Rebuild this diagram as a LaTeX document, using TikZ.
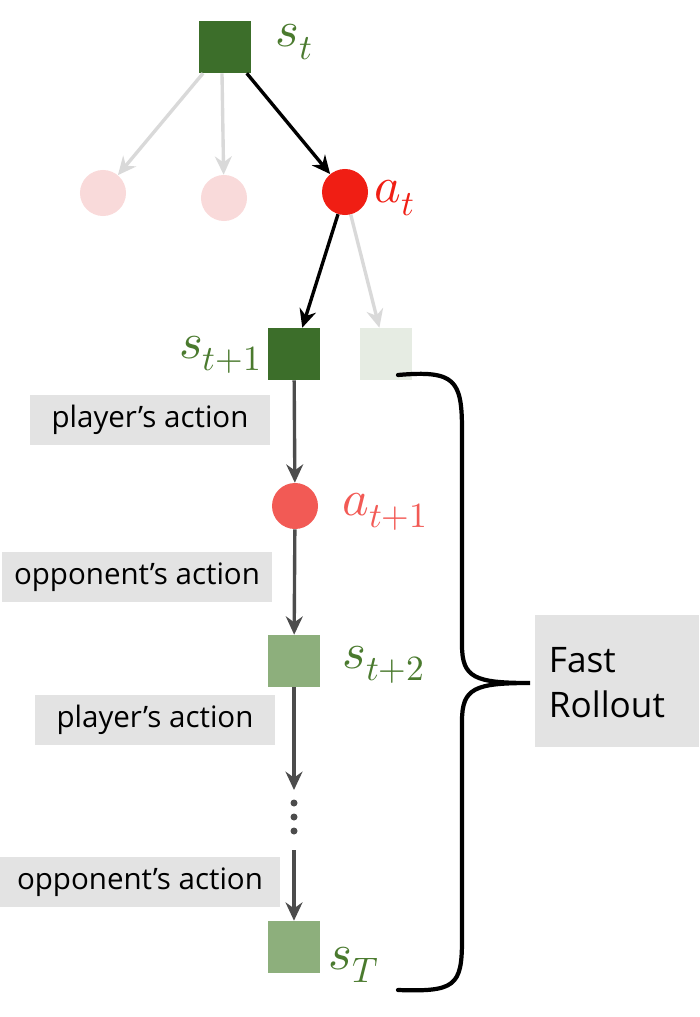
\documentclass[tikz,border=0pt]{standalone}
\usepackage{fontspec}
\usepackage{unicode-math}
\setmainfont{Open Sans}
\setmathfont{Latin Modern Math}
\usetikzlibrary{arrows.meta}
\definecolor{dkgreen}{HTML}{3C6E2A}
\definecolor{ltgreen}{HTML}{8DAF7C}
\definecolor{fdgreen}{HTML}{E6ECE3}
\definecolor{lblgreen}{HTML}{4A7A2E}
\definecolor{redc}{HTML}{F01E14}
\definecolor{lredc}{HTML}{F25A55}
\definecolor{fdred}{HTML}{F9DADA}
\definecolor{boxgray}{HTML}{E3E3E3}
\tikzset{
  state/.style = {draw=none, minimum size=1.3cm, inner sep=0pt},
  act/.style = {circle, draw=none, minimum size=1.15cm, inner sep=0pt},
  lbl/.style = {font=\fontsize{36}{36}\selectfont, inner sep=0pt},
  tag/.style = {fill=boxgray, font=\fontsize{21}{21}\selectfont, inner sep=0pt, minimum height=1.25cm},
  arr/.style = {line width=2.4pt, -{Stealth[length=13pt,width=12pt]}},
}
\begin{document}
\begin{tikzpicture}[x=0.025cm, y=-0.025cm]
\useasboundingbox (0,0) rectangle (699,1017);
% tree top
\node[state, fill=dkgreen] (st) at (225,47) {};
\node[lbl, text=lblgreen, anchor=west] (lst) at (275,42) {$s_t$};
\node[act, fill=fdred] (f1) at (103,193) {};
\node[act, fill=fdred] (f2) at (224,198) {};
\node[act, fill=redc] (at) at (345,192) {};
\node[lbl, text=redc, anchor=west] (lat) at (374,198) {$a_t$};
\draw[arr, draw=black!15] (st) -- (f1);
\draw[arr, draw=black!15] (st.south) ++(-3,0) coordinate (sb) (sb) -- (f2);
\draw[arr, black] (st) -- (at);
% rollout chain
\node[state, fill=dkgreen] (s1) at (294,354) {};
\node[lbl, text=lblgreen, anchor=east] (ls1) at (262,355) {$s_{t+1}$};
\node[state, fill=fdgreen] (fs) at (386,354) {};
\draw[arr, black] (at) -- (s1);
\draw[arr, draw=black!15] (at) -- (fs);
\node[act, fill=lredc] (a1) at (295,506) {};
\node[lbl, text=lredc, anchor=west] (la1) at (342,512) {$a_{t+1}$};
\node[state, fill=ltgreen] (s2) at (294,661) {};
\node[lbl, text=lblgreen, anchor=west] (ls2) at (342,665) {$s_{t+2}$};
\node[state, fill=ltgreen] (sT) at (294,947) {};
\node[lbl, text=lblgreen, anchor=west] (lsT) at (328,965) {$s_T$};
\coordinate (d1) at (294,790);
\coordinate (d2) at (294,850);
\draw[arr, draw=black!70] (s1) -- (a1);
\draw[arr, draw=black!70] (a1) -- (s2);
\draw[arr, draw=black!70] (s2) -- (d1);
\draw[arr, draw=black!70] (d2) -- (sT);
\foreach \y in {803,817,831} \fill[black!70] (294,\y) circle (3.5);
% action tags
\node[tag, minimum width=6cm] (p1) at (150,420) {player’s action};
\node[tag, minimum width=6.75cm] (o1) at (137,577) {opponent’s action};
\node[tag, minimum width=6cm] (p2) at (155,720) {player’s action};
\node[tag, minimum width=7cm] (o2) at (140,882) {opponent’s action};
% brace
\draw[line width=3pt, line cap=round] (398,375) .. controls (455,370) and (462,380) .. (462,430)
  -- (462,645) .. controls (462,678) and (475,683) .. (530,683)
  .. controls (475,683) and (462,688) .. (462,721) -- (462,940)
  .. controls (462,986) and (455,992) .. (398,990);
\node[fill=boxgray, minimum width=4.1cm, minimum height=3.3cm, inner sep=0pt] (fr) at (617,681) {};
\node[font=\fontsize{25}{32}\selectfont, align=left, anchor=west] (frt) at (544,683) {Fast\\Rollout};
\end{tikzpicture}
\end{document}
